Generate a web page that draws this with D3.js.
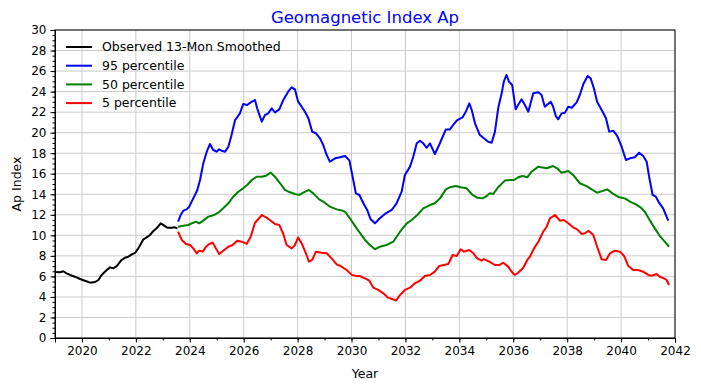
<!DOCTYPE html>
<html lang="en">
<head>
  <meta charset="UTF-8">
  <title>Geomagnetic Index Ap</title>
  <style>
    body { margin: 0; background: #fff; }
    svg { display: block; font-family: "DejaVu Sans", sans-serif; }
  </style>
</head>
<body>
  <div class="chart"></div>
  <script src="https://cdn.jsdelivr.net/npm/d3@7"></script>
  <script>
    // observed 13-month smoothed Ap
    const obsYears = [2019.04, 2019.19, 2019.31, 2019.43, 2019.56, 2019.74, 2019.93, 2020.11, 2020.30, 2020.48,
      2020.61, 2020.73, 2020.92, 2021.04, 2021.16, 2021.29, 2021.47, 2021.60, 2021.72, 2021.85, 2021.97, 2022.09,
      2022.28, 2022.40, 2022.52, 2022.65, 2022.77, 2022.92, 2023.04, 2023.17, 2023.33, 2023.45, 2023.54];
    const obsAp = [6.43, 6.4, 6.5, 6.3, 6.14, 5.97, 5.75, 5.58, 5.39, 5.45,
      5.65, 6.14, 6.62, 6.88, 6.79, 7.0, 7.6, 7.82, 7.92, 8.15, 8.3, 8.73,
      9.61, 9.8, 10.03, 10.42, 10.68, 11.17, 10.97, 10.74, 10.74, 10.78, 10.68];

    // 95 percentile prediction
    const p95Years = [2023.57, 2023.66, 2023.76, 2023.88, 2023.98, 2024.07, 2024.16, 2024.28, 2024.38, 2024.50,
      2024.63, 2024.75, 2024.87, 2025.00, 2025.09, 2025.18, 2025.31, 2025.43, 2025.55, 2025.68, 2025.86, 2025.98,
      2026.13, 2026.30, 2026.42, 2026.50, 2026.67, 2026.79, 2026.91, 2027.04, 2027.16, 2027.32, 2027.47, 2027.65,
      2027.78, 2027.90, 2028.02, 2028.15, 2028.27, 2028.40, 2028.54, 2028.68, 2028.83, 2028.95, 2029.08, 2029.20,
      2029.39, 2029.57, 2029.76, 2029.92, 2030.04, 2030.16, 2030.29, 2030.44, 2030.58, 2030.71, 2030.87, 2031.05,
      2031.24, 2031.49, 2031.67, 2031.86, 2031.98, 2032.17, 2032.29, 2032.42, 2032.54, 2032.66, 2032.79, 2032.91,
      2033.09, 2033.25, 2033.50, 2033.65, 2033.77, 2033.92, 2034.12, 2034.24, 2034.37, 2034.46, 2034.58, 2034.76,
      2034.91, 2035.07, 2035.20, 2035.32, 2035.44, 2035.57, 2035.65, 2035.75, 2035.84, 2035.96, 2036.09, 2036.18,
      2036.31, 2036.43, 2036.56, 2036.74, 2036.93, 2037.05, 2037.17, 2037.39, 2037.48, 2037.58, 2037.67, 2037.79,
      2037.92, 2038.04, 2038.17, 2038.35, 2038.47, 2038.60, 2038.76, 2038.87, 2038.99, 2039.11, 2039.28, 2039.44,
      2039.56, 2039.71, 2039.86, 2040.02, 2040.18, 2040.33, 2040.51, 2040.67, 2040.82, 2040.95, 2041.04, 2041.17,
      2041.29, 2041.41, 2041.56, 2041.75];
    const p95Ap = [11.33, 11.98, 12.4, 12.53, 12.79, 13.28, 13.76, 14.42, 15.39, 17.0,
      18.15, 18.9, 18.31, 18.15, 18.38, 18.24, 18.15, 18.63, 19.77, 21.23, 21.88, 22.79,
      22.69, 23.02, 23.18, 22.37, 21.07, 21.72, 21.88, 22.37, 21.98, 22.27, 23.18, 23.99,
      24.42, 24.22, 23.02, 22.53, 22.04, 21.4, 20.1, 19.94, 19.45, 18.8, 17.82, 17.17,
      17.5, 17.6, 17.73, 17.3, 15.71, 14.09, 13.93, 13.12, 12.47, 11.56, 11.17, 11.66,
      12.08, 12.47, 13.12, 14.25, 15.88, 16.69, 17.66, 18.96, 19.22, 18.96, 18.53, 18.96,
      17.92, 18.8, 20.32, 20.32, 20.75, 21.23, 21.5, 22.04, 22.86, 22.21, 20.91, 19.77,
      19.45, 19.12, 19.02, 20.1, 22.37, 23.83, 24.97, 25.62, 24.97, 24.64, 22.27, 22.69,
      23.25, 22.69, 22.04, 23.83, 23.93, 23.67, 22.53, 23.02, 22.53, 21.62, 21.3, 21.88,
      21.95, 22.53, 22.43, 22.95, 23.67, 24.74, 25.52, 25.29, 24.32, 23.02, 22.21, 21.4,
      20.1, 20.19, 19.67, 18.63, 17.34, 17.5, 17.6, 18.05, 17.73, 17.17, 15.71, 13.93,
      13.76, 13.18, 12.63, 11.43];

    // 50 percentile prediction
    const p50Years = [2023.57, 2023.76, 2023.94, 2024.13, 2024.23, 2024.35, 2024.50, 2024.69, 2024.87, 2025.06,
      2025.24, 2025.43, 2025.61, 2025.80, 2025.98, 2026.13, 2026.30, 2026.48, 2026.67, 2026.83, 2027.00, 2027.16,
      2027.35, 2027.53, 2027.72, 2027.90, 2028.06, 2028.21, 2028.42, 2028.58, 2028.80, 2029.01, 2029.20, 2029.45,
      2029.60, 2029.76, 2029.94, 2030.19, 2030.50, 2030.68, 2030.87, 2031.05, 2031.30, 2031.55, 2031.80, 2032.05,
      2032.23, 2032.44, 2032.66, 2032.91, 2033.09, 2033.28, 2033.50, 2033.65, 2033.87, 2034.05, 2034.27, 2034.49,
      2034.66, 2034.86, 2035.01, 2035.13, 2035.26, 2035.44, 2035.69, 2035.88, 2036.03, 2036.18, 2036.35, 2036.52,
      2036.68, 2036.93, 2037.24, 2037.48, 2037.63, 2037.79, 2038.04, 2038.22, 2038.47, 2038.72, 2038.94, 2039.11,
      2039.31, 2039.49, 2039.71, 2039.93, 2040.14, 2040.33, 2040.55, 2040.72, 2040.88, 2041.06, 2041.25, 2041.44,
      2041.62, 2041.78];
    const p50Ap = [10.84, 10.94, 11.01, 11.23, 11.33, 11.17, 11.43, 11.82, 11.95, 12.21,
      12.63, 13.12, 13.76, 14.25, 14.58, 14.9, 15.39, 15.71, 15.71, 15.81, 16.1, 15.71,
      15.07, 14.42, 14.19, 14.03, 13.93, 14.16, 14.42, 14.09, 13.5, 13.18, 12.79, 12.53,
      12.45, 12.3, 11.66, 10.68, 9.55, 9.06, 8.64, 8.89, 9.06, 9.38, 10.35, 11.17,
      11.49, 11.98, 12.63, 12.95, 13.12, 13.6, 14.48, 14.68, 14.8, 14.68, 14.58, 13.93,
      13.67, 13.6, 13.83, 14.09, 14.03, 14.68, 15.33, 15.39, 15.39, 15.65, 15.78, 15.65,
      16.2, 16.69, 16.53, 16.75, 16.53, 16.1, 16.27, 15.88, 15.07, 14.8, 14.42, 14.16,
      14.32, 14.48, 14.03, 13.7, 13.6, 13.28, 13.02, 12.73, 12.3, 11.49, 10.68, 9.93,
      9.38, 8.89];

    // 5 percentile prediction
    const p5Years = [2023.57, 2023.70, 2023.86, 2024.01, 2024.13, 2024.26, 2024.35, 2024.48, 2024.60, 2024.72,
      2024.85, 2024.97, 2025.09, 2025.24, 2025.43, 2025.59, 2025.76, 2025.93, 2026.11, 2026.26, 2026.42, 2026.57,
      2026.67, 2026.83, 2026.97, 2027.16, 2027.32, 2027.47, 2027.59, 2027.78, 2027.90, 2028.02, 2028.15, 2028.31,
      2028.42, 2028.54, 2028.68, 2028.89, 2029.08, 2029.26, 2029.45, 2029.63, 2029.82, 2030.01, 2030.19, 2030.31,
      2030.50, 2030.66, 2030.81, 2030.99, 2031.18, 2031.36, 2031.53, 2031.65, 2031.80, 2031.98, 2032.17, 2032.35,
      2032.54, 2032.72, 2032.91, 2033.09, 2033.25, 2033.43, 2033.59, 2033.75, 2033.90, 2034.05, 2034.17, 2034.37,
      2034.52, 2034.66, 2034.83, 2034.91, 2035.11, 2035.32, 2035.48, 2035.63, 2035.81, 2035.94, 2036.06, 2036.18,
      2036.37, 2036.52, 2036.62, 2036.77, 2036.93, 2037.11, 2037.24, 2037.36, 2037.55, 2037.73, 2037.88, 2038.04,
      2038.22, 2038.37, 2038.54, 2038.66, 2038.79, 2038.97, 2039.11, 2039.28, 2039.44, 2039.59, 2039.77, 2039.96,
      2040.11, 2040.27, 2040.45, 2040.63, 2040.82, 2041.01, 2041.13, 2041.32, 2041.44, 2041.59, 2041.69, 2041.78];
    const p5Ap = [10.35, 9.55, 9.16, 9.06, 8.73, 8.25, 8.5, 8.41, 8.89, 9.16,
      9.29, 8.73, 8.18, 8.5, 8.89, 9.06, 9.48, 9.38, 9.16, 9.87, 11.23, 11.66,
      11.98, 11.75, 11.49, 11.1, 11.01, 10.13, 9.06, 8.73, 9.06, 9.8, 9.22, 8.25,
      7.43, 7.6, 8.41, 8.31, 8.25, 7.76, 7.18, 6.95, 6.62, 6.15, 6.04, 6.04,
      5.81, 5.58, 4.9, 4.68, 4.35, 3.93, 3.77, 3.64, 4.19, 4.68, 4.9, 5.33,
      5.58, 6.04, 6.14, 6.46, 7.01, 7.11, 7.2, 8.08, 7.99, 8.64, 8.41, 8.57,
      8.25, 7.76, 7.53, 7.69, 7.43, 7.11, 7.11, 7.33, 6.95, 6.46, 6.14, 6.36,
      6.85, 7.6, 7.92, 8.73, 9.38, 10.35, 10.84, 11.66, 11.98, 11.43, 11.49, 11.17,
      10.78, 10.58, 10.13, 10.2, 10.45, 10.03, 8.89, 7.66, 7.6, 8.25, 8.5, 8.41,
      7.99, 7.01, 6.62, 6.62, 6.46, 6.14, 6.07, 6.23, 5.97, 5.81, 5.65, 5.16];

    const xTicks = d3.range(2020, 2043, 2);
    const yTicks = d3.range(0, 31, 2);
    const legendLabels = ['Observed 13-Mon Smoothed', '95 percentile', '50 percentile', '5 percentile'];
    const colors = ['black', 'blue', 'green', 'red'];

    const width = 701, height = 390;
    const margin = { top: 30, right: 26, bottom: 52, left: 55 };
    const innerW = width - margin.left - margin.right;
    const innerH = height - margin.top - margin.bottom;

    const x = d3.scaleLinear().domain([2019, 2042]).range([0, innerW]);
    const y = d3.scaleLinear().domain([0, 30]).range([innerH, 0]);

    const svg = d3.select('.chart').append('svg')
      .attr('width', width)
      .attr('height', height);

    const g = svg.append('g').attr('transform', `translate(${margin.left},${margin.top})`);

    // grid
    g.append('g')
      .selectAll('line')
      .data(xTicks)
      .join('line')
      .attr('x1', d => x(d)).attr('x2', d => x(d))
      .attr('y1', 0).attr('y2', innerH)
      .attr('stroke', '#cbcbcb').attr('stroke-width', 1);
    g.append('g')
      .selectAll('line')
      .data(yTicks)
      .join('line')
      .attr('x1', 0).attr('x2', innerW)
      .attr('y1', d => y(d)).attr('y2', d => y(d))
      .attr('stroke', '#cbcbcb').attr('stroke-width', 1);

    g.append('clipPath').attr('id', 'clip')
      .append('rect').attr('width', innerW).attr('height', innerH);

    const line = d3.line()
      .x(d => x(d[0]))
      .y(d => y(d[1]));

    const series = [
      d3.zip(obsYears, obsAp),
      d3.zip(p95Years, p95Ap),
      d3.zip(p50Years, p50Ap),
      d3.zip(p5Years, p5Ap)
    ];

    g.append('g').attr('clip-path', 'url(#clip)')
      .selectAll('path')
      .data(series)
      .join('path')
      .attr('d', line)
      .attr('fill', 'none')
      .attr('stroke', (d, i) => colors[i])
      .attr('stroke-width', 2)
      .attr('stroke-linejoin', 'round');

    // axes
    g.append('g')
      .attr('transform', `translate(0,${innerH})`)
      .call(d3.axisBottom(x).tickValues(xTicks).tickFormat(d3.format('d')).tickSize(4.5).tickPadding(4));
    g.append('g')
      .attr('transform', `translate(0,${innerH})`)
      .call(d3.axisBottom(x).tickValues(d3.range(2019, 2043, 1)).tickFormat('').tickSize(2.5))
      .select('.domain').remove();

    g.append('g')
      .call(d3.axisLeft(y).tickValues(yTicks).tickSize(4.5).tickPadding(4));
    g.append('g')
      .call(d3.axisLeft(y).tickValues(d3.range(0, 30.01, 0.5)).tickFormat('').tickSize(2.5))
      .select('.domain').remove();

    svg.selectAll('.tick text').attr('font-size', 12).attr('fill', '#000').attr('font-family', '"DejaVu Sans", sans-serif');
    svg.selectAll('.tick line').attr('stroke', '#000');

    // frame
    g.append('rect')
      .attr('width', innerW).attr('height', innerH)
      .attr('fill', 'none').attr('stroke', '#000').attr('stroke-width', 1);

    // labels
    svg.append('text')
      .attr('x', margin.left + innerW / 2).attr('y', 23)
      .attr('text-anchor', 'middle')
      .attr('font-size', 16.5)
      .attr('fill', 'blue')
      .text('Geomagnetic Index Ap');

    svg.append('text')
      .attr('x', margin.left + innerW / 2).attr('y', 378)
      .attr('text-anchor', 'middle')
      .attr('font-size', 12.5)
      .text('Year');

    svg.append('text')
      .attr('transform', `translate(21,${margin.top + innerH / 2}) rotate(-90)`)
      .attr('text-anchor', 'middle')
      .attr('font-size', 12.5)
      .text('Ap Index');

    // legend
    const legend = g.append('g').attr('transform', 'translate(11,17)');
    const rows = legend.selectAll('g')
      .data(legendLabels)
      .join('g')
      .attr('transform', (d, i) => `translate(0,${i * 18.7})`);
    rows.append('line')
      .attr('x1', 0).attr('x2', 26)
      .attr('stroke', (d, i) => colors[i])
      .attr('stroke-width', 2);
    rows.append('text')
      .attr('x', 36).attr('dy', '0.35em')
      .attr('font-size', 12.5)
      .text(d => d);
  </script>
</body>
</html>
